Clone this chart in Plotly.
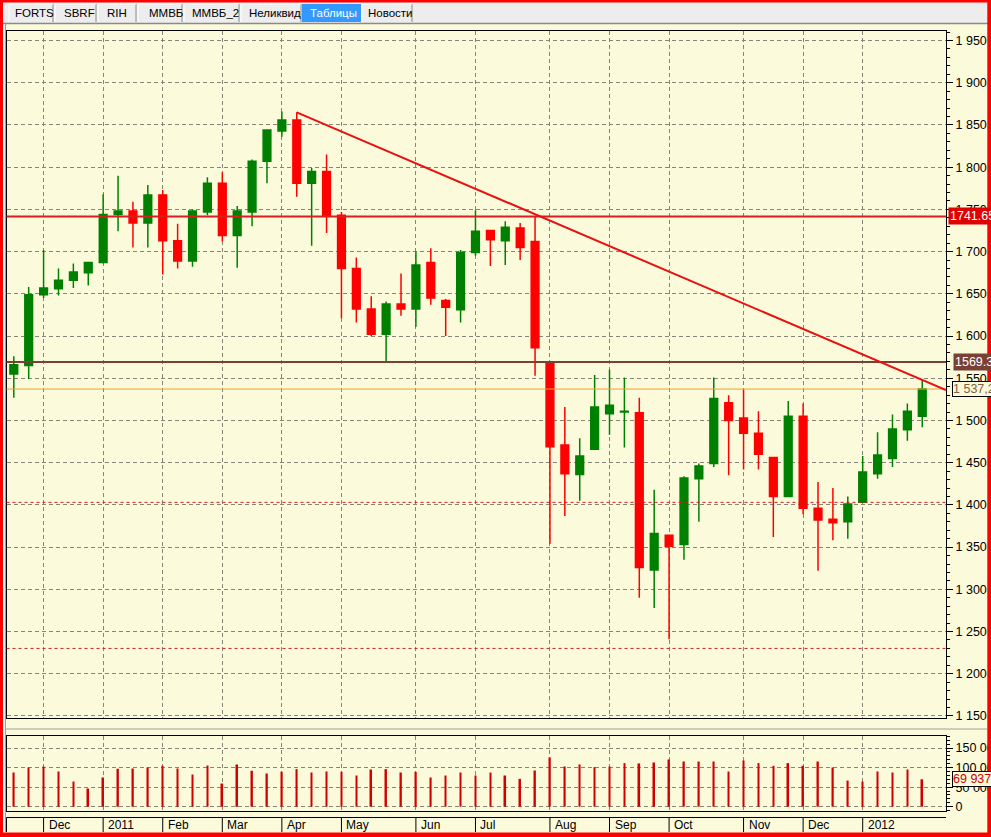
import plotly.graph_objects as go
import pandas as pd

W, H = 991, 837


def px(x):
    return x / W


def py(y):
    return 1 - y / H


# ---------------- data ----------------
weeks = pd.date_range("2010-11-22", "2012-01-30", freq="W-MON")
weeks = weeks[weeks != pd.Timestamp("2011-01-03")]
dates = [d.strftime("%Y-%m-%d") for d in weeks]

opens = [1555, 1565, 1649, 1656, 1666, 1675, 1687, 1744, 1748, 1734,
         1767, 1713, 1689, 1747, 1781, 1719, 1747, 1807, 1843, 1856,
         1781, 1795, 1743, 1680, 1632, 1602, 1638, 1632, 1687, 1642,
         1631, 1699, 1725, 1713, 1728, 1712, 1569.3, 1471, 1436, 1466,
         1508, 1510, 1509, 1323, 1364, 1353, 1431, 1449, 1521, 1503,
         1485, 1456, 1410, 1505, 1396, 1383, 1380, 1403, 1437, 1455,
         1489, 1505]
highs = [1576, 1658, 1702, 1680, 1686, 1688, 1768, 1790, 1759, 1779,
         1773, 1733, 1750, 1788, 1794, 1754, 1809, 1845, 1866, 1865,
         1799, 1815, 1747, 1693, 1647, 1641, 1674, 1700, 1704, 1644,
         1702, 1749, 1726, 1736, 1734, 1742, 1570, 1516, 1479, 1554,
         1560, 1551, 1527, 1418, 1365, 1434, 1449, 1551, 1530, 1537,
         1511, 1457, 1523, 1520, 1427, 1420, 1410, 1458, 1486, 1507,
         1520, 1548]
lows = [1527, 1549, 1645, 1648, 1657, 1660, 1686, 1724, 1705, 1705,
        1673, 1680, 1682, 1743, 1712, 1681, 1730, 1781, 1836, 1765,
        1707, 1722, 1621, 1616, 1600, 1570, 1624, 1611, 1637, 1600,
        1616, 1695, 1683, 1684, 1690, 1553, 1354, 1387, 1405, 1466,
        1483, 1468, 1290, 1278, 1241, 1335, 1380, 1445, 1435, 1442,
        1442, 1362, 1409, 1389, 1322, 1358, 1360, 1403, 1431, 1445,
        1476, 1492]
closes = [1566, 1649, 1657, 1666, 1676, 1687, 1744, 1748, 1734, 1767,
          1713, 1689, 1748, 1781, 1719, 1748, 1807, 1844, 1856, 1781,
          1795, 1743, 1680, 1632, 1602, 1638, 1632, 1684, 1645, 1634,
          1699, 1724, 1714, 1729, 1705, 1586, 1469, 1437, 1458, 1516,
          1518, 1511, 1326, 1366, 1351, 1432, 1446, 1526, 1500, 1485,
          1460, 1410, 1505, 1396, 1382, 1379, 1401, 1439, 1459, 1490,
          1511, 1537.2]
volumes = [87400, 100300, 102800, 90000, 64300, 46300, 74600, 96800, 97700, 100300,
           104600, 97700, 82300, 105400, 59100, 108000, 91700, 84800, 89100, 96000,
           87400, 90000, 89100, 79700, 95100, 96000, 87400, 89100, 74600, 79700,
           87400, 79700, 87400, 79700, 71100, 92600, 126000, 102800, 108000, 101100,
           102800, 111400, 110600, 113100, 120800, 115700, 115700, 115700, 90000, 118300,
           111400, 104600, 111400, 104600, 115700, 100300, 66800, 64300, 90000, 87400,
           95100, 69937]

month_ticks = ["2010-12-06", "2011-01-10", "2011-02-07", "2011-03-07", "2011-04-04",
               "2011-05-02", "2011-06-06", "2011-07-04", "2011-08-08", "2011-09-05",
               "2011-10-03", "2011-11-07", "2011-12-05", "2012-01-02"]
month_labels = ["Dec", "2011", "Feb", "Mar", "Apr", "May", "Jun", "Jul", "Aug",
                "Sep", "Oct", "Nov", "Dec", "2012"]

levels = [1741.65, 1569.35, 1537.2, 1403, 1230]
trend_from = "2011-04-11"   # trend line through highs of these two weeks
trend_to = "2012-01-30"

tabs = ["FORTS", "SBRF", "RIH", "ММВБ", "ММВБ_2", "Неликвид", "Таблицы", "Новости"]
selected_tab = "Таблицы"

# ---------------- styles ----------------
BG = "#FBFBDC"
GREEN = "#008000"
RED = "#FF0000"
VOLC = "#D00000"
GRID = "#85857A"
FONT = "Liberation Sans, Arial, sans-serif"
level_styles = [
    dict(color="#D81E1E", width=2, dash="solid"),
    dict(color="#7A4034", width=2, dash="solid"),
    dict(color="#F0A030", width=1, dash="solid"),
    dict(color="#D02020", width=1, dash="3px,3px"),
    dict(color="#D02020", width=1, dash="3px,3px"),
]

X0, X1 = 6.5, 946          # plot left/right pixels
XR = [-0.49, 62.594]        # category index range
MAIN_T, MAIN_B = 31, 718
VOL_T, VOL_B = 736, 811

fig = go.Figure()
fig.add_trace(go.Candlestick(
    x=dates, open=opens, high=highs, low=lows, close=closes,
    increasing=dict(line=dict(color=GREEN, width=1.5), fillcolor=GREEN),
    decreasing=dict(line=dict(color=RED, width=1.5), fillcolor=RED),
    whiskerwidth=0, xaxis="x", yaxis="y", showlegend=False, hoverinfo="x+y"))
fig.add_trace(go.Bar(
    x=dates, y=volumes, width=0.11, marker=dict(color=VOLC, line=dict(width=0)),
    xaxis="x2", yaxis="y2", showlegend=False))

common_x = dict(type="category", categoryorder="array", categoryarray=dates,
                range=XR, domain=[px(X0), px(X1)], tickvals=month_ticks,
                showticklabels=False, ticks="", showgrid=True, gridcolor=GRID,
                griddash="4px,3px", gridwidth=1, showline=True, mirror=True,
                linecolor="black", linewidth=1, zeroline=False, fixedrange=True,
                automargin=False)

fig.update_layout(
    width=W, height=H, margin=dict(l=0, r=0, t=0, b=0, pad=0, autoexpand=False),
    paper_bgcolor=BG, plot_bgcolor=BG, separators=", ", boxgap=0.26,
    font=dict(family=FONT, size=12, color="black"),
    xaxis=dict(**common_x, anchor="y", rangeslider=dict(visible=False)),
    xaxis2=dict(**common_x, anchor="y2"),
    yaxis=dict(domain=[py(MAIN_B), py(MAIN_T)], anchor="x", side="right",
               range=[1147.6, 1961.3], tick0=1150, dtick=50, tickformat=",d",
               ticks="outside", ticklen=6, tickcolor="black",
               minor=dict(dtick=10, ticks="outside", ticklen=3, tickcolor="black",
                          showgrid=False),
               showgrid=True, gridcolor=GRID, griddash="4px,3px", gridwidth=1,
               showline=True, mirror=True, linecolor="black", linewidth=1,
               zeroline=False, fixedrange=True, automargin=False,
               tickfont=dict(size=12.5)),
    yaxis2=dict(domain=[py(VOL_B), py(VOL_T)], anchor="x2", side="right",
                range=[-11000, 180700], tick0=0, dtick=50000, tickformat=",d",
                ticks="outside", ticklen=6, tickcolor="black",
                minor=dict(dtick=10000, ticks="outside", ticklen=3, tickcolor="black",
                           showgrid=False),
                showgrid=True, gridcolor=GRID, griddash="4px,3px", gridwidth=1,
                showline=True, mirror=True, linecolor="black", linewidth=1,
                zeroline=False, fixedrange=True, automargin=False,
                tickfont=dict(size=12.5)),
)

shapes = []
annotations = []

# horizontal levels
for lv, st in zip(levels, level_styles):
    shapes.append(dict(type="line", xref="x domain", yref="y", x0=0, x1=1, y0=lv, y1=lv,
                       line=st, layer="above"))

# trend line through two highs, extended to the right edge
i1, i2 = dates.index(trend_from), dates.index(trend_to)
slope = (highs[i2] - highs[i1]) / (i2 - i1)
xe = XR[1]
shapes.append(dict(type="line", xref="x", yref="y", x0=i1, y0=highs[i1],
                   x1=xe, y1=highs[i1] + slope * (xe - i1),
                   line=dict(color="#E81010", width=2), layer="above"))

# right-side value labels
annotations.append(dict(xref="paper", yref="y", x=px(948), y=levels[0], xanchor="left",
                        yanchor="middle", text="1741.65", showarrow=False,
                        bgcolor="#E00000", font=dict(color="white", size=12.5), borderpad=1))
annotations.append(dict(xref="paper", yref="y", x=px(953), y=levels[1], xanchor="left",
                        yanchor="middle", text="1569.35", showarrow=False,
                        bgcolor="#7A4034", font=dict(color="white", size=12.5), borderpad=1))
annotations.append(dict(xref="paper", yref="y", x=px(952), y=levels[2], xanchor="left",
                        yanchor="middle", text="1 537,2", showarrow=False,
                        bgcolor=BG, bordercolor="black", borderwidth=1,
                        font=dict(color="#806040", size=12.5), borderpad=0))
annotations.append(dict(xref="paper", yref="y2", x=px(952), y=volumes[-1], xanchor="left",
                        yanchor="middle", text="69 937", showarrow=False,
                        bgcolor=BG, bordercolor="black", borderwidth=1,
                        font=dict(color="#CC0000", size=12.5), borderpad=0))

# date strip below the volume panel
STRIP_T, STRIP_B = 817.5, 832
shapes.append(dict(type="line", xref="paper", yref="paper", x0=px(X0), x1=px(X1),
                   y0=py(STRIP_T), y1=py(STRIP_T), line=dict(color="black", width=1)))
shapes.append(dict(type="line", xref="paper", yref="paper", x0=px(X0), x1=px(X0),
                   y0=py(STRIP_T), y1=py(STRIP_B), line=dict(color="black", width=1)))
for d, lab in zip(month_ticks, month_labels):
    shapes.append(dict(type="line", xref="x2", yref="paper", x0=d, x1=d,
                       y0=py(STRIP_T), y1=py(STRIP_B), line=dict(color="black", width=1)))
    annotations.append(dict(xref="x2", yref="paper", x=d, y=py(825), xanchor="left",
                            yanchor="middle", xshift=3, text=lab, showarrow=False,
                            font=dict(size=12, color="black")))

# separator between price and volume panels
shapes.append(dict(type="line", xref="paper", yref="paper", x0=px(3), x1=px(987),
                   y0=py(729), y1=py(729), line=dict(color="#A0A0A0", width=1)))

# left window edge strip
shapes.append(dict(type="rect", xref="paper", yref="paper", x0=px(3), x1=px(5.2),
                   y0=py(832), y1=py(24), fillcolor="white", line=dict(width=0)))
shapes.append(dict(type="line", xref="paper", yref="paper", x0=px(5.5), x1=px(5.5),
                   y0=py(832), y1=py(24), line=dict(color="#A0A0A0", width=1)))

# tab bar
shapes.append(dict(type="rect", xref="paper", yref="paper", x0=0, x1=1, y0=py(23), y1=1,
                   fillcolor="#EDEDED", line=dict(width=0)))
shapes.append(dict(type="line", xref="paper", yref="paper", x0=0, x1=1, y0=py(23.5),
                   y1=py(23.5), line=dict(color="#8A8A8A", width=1.5)))
tab_edges = [8, 54, 97, 137, 183, 240, 302, 361, 413]
tab_text_x = [13, 62, 105, 147, 190, 247, 308, 366]
for k, name in enumerate(tabs):
    a, b = tab_edges[k], tab_edges[k + 1]
    if name == selected_tab:
        shapes.append(dict(type="rect", xref="paper", yref="paper", x0=px(a), x1=px(b),
                           y0=py(22), y1=py(4), fillcolor="#3399FF", line=dict(width=0)))
    else:
        shapes.append(dict(type="line", xref="paper", yref="paper", x0=px(a + 1), x1=px(a + 1),
                           y0=py(22), y1=py(4), line=dict(color="white", width=1)))
        shapes.append(dict(type="line", xref="paper", yref="paper", x0=px(b - 1), x1=px(b - 1),
                           y0=py(22), y1=py(4), line=dict(color="#8A8A8A", width=1)))
        shapes.append(dict(type="line", xref="paper", yref="paper", x0=px(a + 1), x1=px(b - 1),
                           y0=py(4), y1=py(4), line=dict(color="white", width=1)))
    annotations.append(dict(xref="paper", yref="paper", x=px(tab_text_x[k]), y=py(13),
                            xanchor="left", yanchor="middle", text=name, showarrow=False,
                            font=dict(size=11.5, color="white" if name == selected_tab else "black")))

# red window frame
for (a, b, c, d) in [(0, 3, 0, H), (987.3, W, 0, H), (0, W, 0, 2.5), (0, W, 832.5, H)]:
    shapes.append(dict(type="rect", xref="paper", yref="paper", x0=px(a), x1=px(b),
                       y0=py(d), y1=py(c), fillcolor="#FF0000", line=dict(width=0),
                       layer="above"))

fig.update_layout(shapes=shapes, annotations=annotations)
fig.write_html("out.html", config={"displayModeBar": False},
               post_script="document.body.style.margin='0px';"
                           "document.body.style.padding='0px';"
                           "document.body.style.overflow='hidden';")
